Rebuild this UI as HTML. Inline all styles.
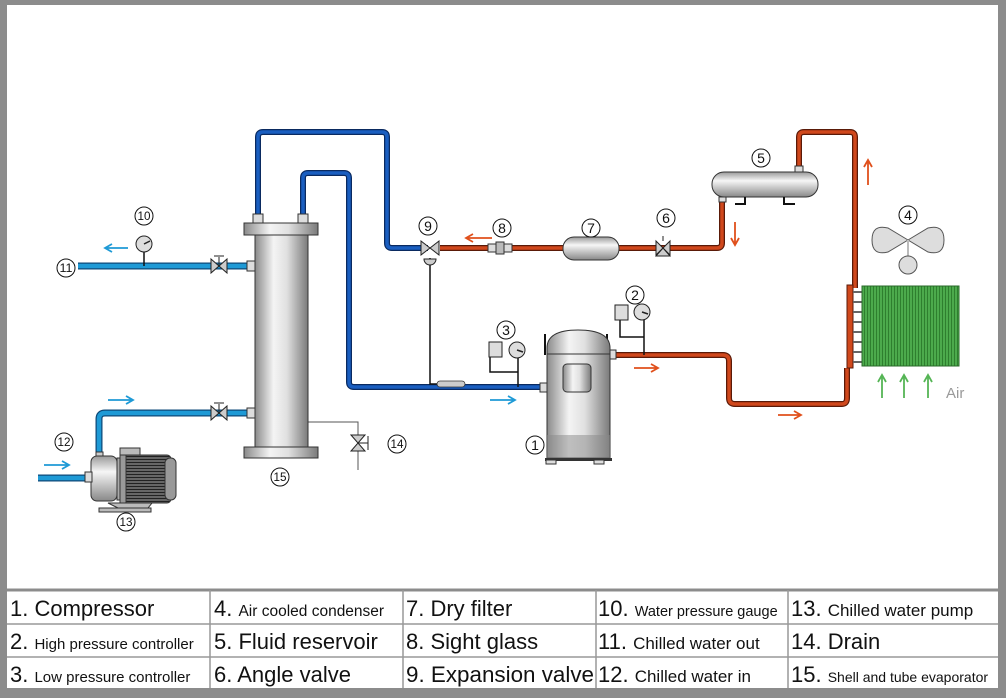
<!DOCTYPE html>
<html><head><meta charset="utf-8"><style>
body{margin:0;width:1006px;height:698px;overflow:hidden;background:#fff}
svg{display:block}
text{font-family:"Liberation Sans",sans-serif}
</style></head><body>
<svg width="1006" height="698" viewBox="0 0 1006 698">
<defs>
<linearGradient id="cyl" x1="0" x2="1"><stop offset="0" stop-color="#8a8a8a"/><stop offset=".35" stop-color="#f4f4f4"/><stop offset=".6" stop-color="#e0e0e0"/><stop offset="1" stop-color="#7a7a7a"/></linearGradient>
<linearGradient id="hcyl" x1="0" y1="0" x2="0" y2="1"><stop offset="0" stop-color="#999"/><stop offset=".35" stop-color="#f6f6f6"/><stop offset="1" stop-color="#888"/></linearGradient>
<pattern id="fins" width="3" height="10" patternUnits="userSpaceOnUse"><rect width="3" height="10" fill="#4caa4c"/><rect width="1" height="10" fill="#2e7f2e"/></pattern>
<pattern id="mfins" width="10" height="3" patternUnits="userSpaceOnUse"><rect width="10" height="3" fill="#666"/><rect width="10" height="1" fill="#222"/></pattern>
</defs>
<rect x="0" y="0" width="1006" height="698" fill="#8c8c8c"/>
<rect x="7" y="5" width="991" height="683" fill="#fff"/>
<line x1="7" y1="590" x2="998" y2="590" stroke="#8c8c8c" stroke-width="3"/>
<g stroke="#999" stroke-width="1.5">
<line x1="7" y1="624" x2="998" y2="624"/><line x1="7" y1="657" x2="998" y2="657"/>
<line x1="210" y1="590" x2="210" y2="688"/><line x1="403" y1="590" x2="403" y2="688"/>
<line x1="596" y1="590" x2="596" y2="688"/><line x1="788" y1="590" x2="788" y2="688"/>
</g>
<g fill="#111">
<text x="10" y="616" font-size="22">1. Compressor</text>
<text x="10" y="649" font-size="22">2. <tspan font-size="15">High pressure controller</tspan></text>
<text x="10" y="682" font-size="22">3. <tspan font-size="15">Low pressure controller</tspan></text>
<text x="214" y="616" font-size="22">4. <tspan font-size="15.5">Air cooled condenser</tspan></text>
<text x="214" y="649" font-size="22">5. Fluid reservoir</text>
<text x="214" y="682" font-size="22">6. Angle valve</text>
<text x="406" y="616" font-size="22">7. Dry filter</text>
<text x="406" y="649" font-size="22">8. Sight glass</text>
<text x="406" y="682" font-size="22" textLength="188" lengthAdjust="spacingAndGlyphs">9. Expansion valve</text>
<text x="598" y="616" font-size="22">10. <tspan font-size="14.5">Water pressure gauge</tspan></text>
<text x="598" y="649" font-size="22">11. <tspan font-size="17">Chilled water out</tspan></text>
<text x="598" y="682" font-size="22">12. <tspan font-size="17">Chilled water in</tspan></text>
<text x="791" y="616" font-size="22">13. <tspan font-size="17">Chilled water pump</tspan></text>
<text x="791" y="649" font-size="22">14. Drain</text>
<text x="791" y="682" font-size="22">15. <tspan font-size="14">Shell and tube evaporator</tspan></text>
</g>

<g fill="none" stroke-linejoin="round">
<path d="M258 222 V137 Q258 132 263 132 H382 Q387 132 387 137 V243 Q387 248 392 248 H428" stroke="#0a2a60" stroke-width="6"/>
<path d="M258 222 V137 Q258 132 263 132 H382 Q387 132 387 137 V243 Q387 248 392 248 H428" stroke="#1a5ec0" stroke-width="3.5"/>
<path d="M303 222 V178 Q303 173 308 173 H344 Q349 173 349 178 V382 Q349 387 354 387 H540" stroke="#0a2a60" stroke-width="6"/>
<path d="M303 222 V178 Q303 173 308 173 H344 Q349 173 349 178 V382 Q349 387 354 387 H540" stroke="#1a5ec0" stroke-width="3.5"/>
<path d="M440 248 H717 Q722 248 722 243 V200" stroke="#5a1a08" stroke-width="6"/>
<path d="M440 248 H717 Q722 248 722 243 V200" stroke="#d0481c" stroke-width="3.5"/>
<path d="M799 168 V137 Q799 132 804 132 H850 Q855 132 855 137 V288" stroke="#5a1a08" stroke-width="6"/>
<path d="M799 168 V137 Q799 132 804 132 H850 Q855 132 855 137 V288" stroke="#d0481c" stroke-width="3.5"/>
<path d="M612 355 H723 Q729 355 729 361 V398 Q729 404 735 404 H842 Q847 404 847 398 V368" stroke="#5a1a08" stroke-width="6"/>
<path d="M612 355 H723 Q729 355 729 361 V398 Q729 404 735 404 H842 Q847 404 847 398 V368" stroke="#d0481c" stroke-width="3.5"/>
<path d="M78 266 H250" stroke="#0e4a78" stroke-width="7"/><path d="M78 266 H250" stroke="#1e9ad6" stroke-width="4.5"/>
<path d="M250 413 H105 Q99 413 99 419 V458" stroke="#0e4a78" stroke-width="7"/><path d="M250 413 H105 Q99 413 99 419 V458" stroke="#1e9ad6" stroke-width="4.5"/>
<path d="M38 478 H92" stroke="#0e4a78" stroke-width="7"/><path d="M38 478 H92" stroke="#1e9ad6" stroke-width="4.5"/>
</g>
<g stroke="#111" stroke-width="1.5" fill="none">
<path d="M430 258 V384 H438"/>
<path d="M144 252 V266"/>
<path d="M490 357 V372 H518 M518 358 V387"/>
<path d="M620 320 V337 H644 M644 320 V355"/>
</g>
<path d="M308 422 H358 V470" stroke="#555" stroke-width="1" fill="none"/>
<rect x="437" y="381" width="28" height="6" rx="3" fill="#ccc" stroke="#333" stroke-width=".8"/>

<rect x="253" y="214" width="10" height="9" fill="#ddd" stroke="#333"/>
<rect x="298" y="214" width="10" height="9" fill="#ddd" stroke="#333"/>
<rect x="244" y="223" width="74" height="12" fill="url(#cyl)" stroke="#333"/>
<rect x="255" y="235" width="53" height="212" fill="url(#cyl)" stroke="#333"/>
<rect x="244" y="447" width="74" height="11" fill="url(#cyl)" stroke="#333"/>
<rect x="247" y="261" width="8" height="10" fill="#ddd" stroke="#333"/>
<rect x="247" y="408" width="8" height="10" fill="#ddd" stroke="#333"/>

<g fill="#ccc" stroke="#222" stroke-width="1">
<path d="M211 259 L227 273 V259 L211 273 Z"/><line x1="219" y1="266" x2="219" y2="257"/><line x1="214" y1="256" x2="224" y2="256"/>
<path d="M211 406 L227 420 V406 L211 420 Z"/><line x1="219" y1="413" x2="219" y2="404"/><line x1="214" y1="403" x2="224" y2="403"/>
<path d="M351 435 L365 451 H351 L365 435 Z"/><line x1="358" y1="443" x2="368" y2="443"/><line x1="368" y1="436" x2="368" y2="450"/>
<path d="M421 241 L439 255 V241 L421 255 Z"/><path d="M424 259 A6 6 0 0 0 436 259 Z"/>
<path d="M656 241 L670 255 V241 L656 255 Z"/><path d="M663 248 L656 256 H670 Z"/><line x1="663" y1="241" x2="663" y2="236"/>
</g>
<rect x="488" y="244" width="24" height="8" fill="#ddd" stroke="#333"/><rect x="496" y="242" width="8" height="12" fill="#bbb" stroke="#333"/>
<rect x="563" y="237" width="56" height="23" rx="11" fill="url(#hcyl)" stroke="#333"/>
<rect x="712" y="172" width="106" height="25" rx="12" fill="url(#hcyl)" stroke="#333"/>
<path d="M745 197 V204 H735 M784 197 V204 H795" stroke="#111" stroke-width="2" fill="none"/>
<rect x="795" y="166" width="8" height="6" fill="#ddd" stroke="#333"/>
<rect x="719" y="197" width="7" height="5" fill="#ddd" stroke="#333"/>

<g fill="#ddd" stroke="#222">
<circle cx="144" cy="244" r="8"/><rect x="489" y="342" width="13" height="15"/><circle cx="517" cy="350" r="8"/>
<rect x="615" y="305" width="13" height="15"/><circle cx="642" cy="312" r="8"/>
</g>
<g stroke="#222" stroke-width="1.5"><line x1="144" y1="244" x2="150" y2="241"/><line x1="517" y1="350" x2="523" y2="352"/><line x1="642" y1="312" x2="648" y2="314"/></g>

<path d="M545 334 V355 M607 334 V355" stroke="#111" stroke-width="2"/>
<path d="M547 458 V348 Q547 330 578 330 Q610 330 610 348 V458 Z" fill="url(#cyl)" stroke="#333"/>
<line x1="547" y1="354" x2="610" y2="354" stroke="#333"/>
<rect x="547" y="435" width="63" height="23" fill="#8a8a8a" opacity=".5"/>
<rect x="563" y="364" width="28" height="28" rx="4" fill="url(#cyl)" stroke="#333"/>
<rect x="540" y="383" width="7" height="9" fill="#ddd" stroke="#333"/>
<rect x="610" y="350" width="6" height="9" fill="#ddd" stroke="#333"/>
<rect x="545" y="458" width="67" height="3" fill="#333"/><rect x="546" y="460" width="10" height="4" fill="#ddd" stroke="#333"/><rect x="594" y="460" width="10" height="4" fill="#ddd" stroke="#333"/>

<rect x="96" y="452" width="7" height="6" fill="#ccc" stroke="#333"/>
<rect x="91" y="456" width="26" height="45" rx="6" fill="url(#hcyl)" stroke="#333"/>
<rect x="85" y="472" width="7" height="10" fill="#ddd" stroke="#333"/>
<rect x="117" y="458" width="6" height="42" fill="#aaa" stroke="#333"/>
<rect x="121" y="455" width="50" height="48" rx="4" fill="url(#mfins)" stroke="#333"/>
<rect x="120" y="452" width="6" height="52" fill="#999" stroke="#333"/>
<rect x="165" y="458" width="11" height="42" rx="5" fill="#999" stroke="#333"/>
<rect x="120" y="448" width="20" height="7" fill="#bbb" stroke="#333"/>
<path d="M108 503 L118 508 H148 L152 503 Z" fill="#bbb" stroke="#333"/><rect x="99" y="508" width="52" height="4" fill="#bbb" stroke="#333"/>

<rect x="847" y="285" width="6" height="83" fill="#d0481c" stroke="#5a1a08"/>
<g stroke="#666" stroke-width="2">
<line x1="853" y1="292" x2="862" y2="292"/><line x1="853" y1="302" x2="862" y2="302"/><line x1="853" y1="312" x2="862" y2="312"/><line x1="853" y1="322" x2="862" y2="322"/><line x1="853" y1="332" x2="862" y2="332"/><line x1="853" y1="342" x2="862" y2="342"/><line x1="853" y1="352" x2="862" y2="352"/><line x1="853" y1="362" x2="862" y2="362"/>
</g>
<rect x="862" y="286" width="97" height="80" fill="url(#fins)" stroke="#2a6a2a"/>
<g fill="#ddd" stroke="#555">
<path d="M908 240 L888 228 Q872 224 872 240 Q872 256 888 252 Z"/>
<path d="M908 240 L928 228 Q944 224 944 240 Q944 256 928 252 Z"/>
<line x1="908" y1="240" x2="908" y2="257" stroke="#bbb" stroke-width="2"/>
<circle cx="908" cy="265" r="9"/>
</g>
<g stroke-width="1.8" fill="none">
<g stroke="#55b555"><path d="M882 398 V376 M878 382 L882 375 L886 382"/><path d="M904 398 V376 M900 382 L904 375 L908 382"/><path d="M928 398 V376 M924 382 L928 375 L932 382"/></g>
<g stroke="#e0501c"><path d="M492 238 H467 M473 234 L466 238 L473 242"/><path d="M735 222 V244 M731 238 L735 245 L739 238"/><path d="M868 185 V161 M864 167 L868 160 L872 167"/><path d="M634 368 H657 M651 364 L658 368 L651 372"/><path d="M778 415 H800 M794 411 L801 415 L794 419"/></g>
<g stroke="#1e9ad6"><path d="M128 248 H106 M112 244 L105 248 L112 252"/><path d="M108 400 H132 M126 396 L133 400 L126 404"/><path d="M44 465 H68 M62 461 L69 465 L62 469"/><path d="M490 400 H514 M508 396 L515 400 L508 404"/></g>
</g>
<text x="946" y="398" font-family="Liberation Serif,serif" font-size="15" fill="#999">Air</text>
<g fill="none" stroke="#111" stroke-width="1">
<circle cx="535" cy="445" r="9"/><circle cx="635" cy="295" r="9"/><circle cx="506" cy="330" r="9"/><circle cx="908" cy="215" r="9"/>
<circle cx="761" cy="158" r="9"/><circle cx="666" cy="218" r="9"/><circle cx="591" cy="228" r="9"/><circle cx="502" cy="228" r="9"/>
<circle cx="428" cy="226" r="9"/><circle cx="144" cy="216" r="9"/><circle cx="66" cy="268" r="9"/><circle cx="64" cy="442" r="9"/>
<circle cx="126" cy="522" r="9"/><circle cx="397" cy="444" r="9"/><circle cx="280" cy="477" r="9"/>
</g>
<g font-family="Liberation Serif,serif" font-size="14" fill="#111" text-anchor="middle">
<text x="535" y="450">1</text><text x="635" y="300">2</text><text x="506" y="335">3</text><text x="908" y="220">4</text>
<text x="761" y="163">5</text><text x="666" y="223">6</text><text x="591" y="233">7</text><text x="502" y="233">8</text>
<text x="428" y="231">9</text>
<g font-size="12" textLength="13" lengthAdjust="spacingAndGlyphs"><text x="144" y="220" textLength="13" lengthAdjust="spacingAndGlyphs">10</text><text x="66" y="272" textLength="13" lengthAdjust="spacingAndGlyphs">11</text><text x="64" y="446" textLength="13" lengthAdjust="spacingAndGlyphs">12</text>
<text x="126" y="526" textLength="13" lengthAdjust="spacingAndGlyphs">13</text><text x="397" y="448" textLength="13" lengthAdjust="spacingAndGlyphs">14</text><text x="280" y="481" textLength="13" lengthAdjust="spacingAndGlyphs">15</text></g>
</g>
</svg>
</body></html>
